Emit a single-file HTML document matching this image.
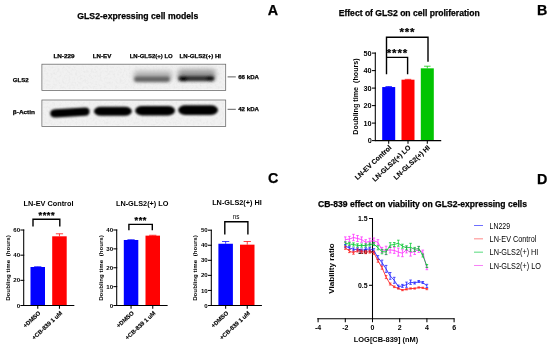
<!DOCTYPE html>
<html><head><meta charset="utf-8"><title>GLS2 figure</title>
<style>
html,body{margin:0;padding:0;background:#fff;}
svg{display:block}
text{font-family:"Liberation Sans",Arial,sans-serif;fill:#000}
.b{font-weight:bold}
.h{stroke:#000;stroke-width:0.25}
.h2{stroke:#000;stroke-width:0.15}
.ax{stroke:#000;stroke-width:1.05;fill:none;stroke-linecap:square}
.br{stroke:#000;stroke-width:1.4;fill:none}
</style></head><body>
<svg width="550" height="349" viewBox="0 0 550 349">
<defs>
<filter id="bl1" x="-20%" y="-100%" width="140%" height="300%"><feGaussianBlur stdDeviation="1.5"/></filter>
<filter id="bl2" x="-20%" y="-100%" width="140%" height="300%"><feGaussianBlur stdDeviation="2.4"/></filter>
<filter id="bl3" x="-20%" y="-100%" width="140%" height="300%"><feGaussianBlur stdDeviation="0.8"/></filter>
<filter id="noise" x="0" y="0" width="100%" height="100%"><feTurbulence type="fractalNoise" baseFrequency="0.45" numOctaves="2" seed="3" result="n"/><feColorMatrix in="n" type="matrix" values="0 0 0 0 0.55  0 0 0 0 0.55  0 0 0 0 0.55  0.9 0 0 0 -0.38"/></filter>
<clipPath id="c1"><rect x="41.9" y="64.2" width="183.8" height="26.2"/></clipPath>
</defs>
<rect width="550" height="349" fill="#fff"/>

<text x="267.8" y="15" class="b h" font-size="14.3">A</text>
<text x="537.1" y="14.9" class="b h" font-size="14.3">B</text>
<text x="268.1" y="183.3" class="b h" font-size="14.3">C</text>
<text x="537.1" y="183.5" class="b h" font-size="14.3">D</text>
<text x="137.8" y="18.6" class="b h" font-size="8.7" text-anchor="middle" textLength="121" lengthAdjust="spacingAndGlyphs">GLS2-expressing cell models</text>
<text x="64" y="57.6" class="b h" font-size="6.0" text-anchor="middle" textLength="21.2" lengthAdjust="spacingAndGlyphs">LN-229</text>
<text x="102" y="57.6" class="b h" font-size="6.0" text-anchor="middle" textLength="18.5" lengthAdjust="spacingAndGlyphs">LN-EV</text>
<text x="151.2" y="57.6" class="b h" font-size="6.0" text-anchor="middle" textLength="43" lengthAdjust="spacingAndGlyphs">LN-GLS2(+) LO</text>
<text x="200.3" y="57.6" class="b h" font-size="6.0" text-anchor="middle" textLength="41.5" lengthAdjust="spacingAndGlyphs">LN-GLS2(+) HI</text>
<text x="12.8" y="81.8" class="b h" font-size="6.0" textLength="15.8" lengthAdjust="spacingAndGlyphs">GLS2</text>
<text x="12.8" y="113.6" class="b h" font-size="6.0" textLength="22.2" lengthAdjust="spacingAndGlyphs">β-Actin</text>
<text x="238.2" y="79" class="b h" font-size="6.0" textLength="20.8" lengthAdjust="spacingAndGlyphs">66 kDA</text>
<text x="238.2" y="110.8" class="b h" font-size="6.0" textLength="20.8" lengthAdjust="spacingAndGlyphs">42 kDA</text>
<path d="M227.6 76.9H235.8M227.6 109.3H235.8" stroke="#2a2a2a" stroke-width="0.75" fill="none"/>
<rect x="41.9" y="64.2" width="183.8" height="26.2" fill="#f1f1f1"/>
<rect x="41.9" y="64.2" width="183.8" height="26.2" filter="url(#noise)" opacity="0.45"/>
<rect x="41.9" y="100" width="183.8" height="26.6" fill="#f1f1f1"/>
<rect x="41.9" y="100" width="183.8" height="26.6" filter="url(#noise)" opacity="0.45"/>
<g clip-path="url(#c1)">
<g filter="url(#bl2)"><rect x="134" y="71" width="38" height="9" rx="3" fill="#b4b4b4"/><rect x="178" y="69.5" width="37.5" height="10" rx="3" fill="#989898"/></g>
<g filter="url(#bl1)"><rect x="134" y="76.6" width="36" height="5.4" rx="2.7" fill="#505050" opacity="0.85"/><rect x="178.2" y="76" width="36.3" height="5" rx="2.5" fill="#2c2c2c"/><ellipse cx="183.5" cy="78.8" rx="4.5" ry="2.4" fill="#000"/><ellipse cx="210" cy="78.6" rx="3.8" ry="2.2" fill="#000"/></g>
</g>
<g filter="url(#bl3)" fill="#050505">
<path d="M50.2 113.5 Q50.2 109.6 55 109.2 L85 107.5 Q89.6 107.5 89.6 111.4 Q89.6 115.4 85 115.8 L56 117.6 Q50.2 117.8 50.2 113.5Z"/>
<rect x="94" y="106.8" width="37.8" height="9" rx="7" ry="4.5"/>
<rect x="135.2" y="105.9" width="39.8" height="9.6" rx="7" ry="4.8"/>
<rect x="178.2" y="105.3" width="39.8" height="9.6" rx="7" ry="4.8"/>
</g>
<rect x="42.7" y="65" width="182.2" height="24.6" fill="none" stroke="#fbfbfb" stroke-width="0.6"/>
<rect x="41.9" y="64.2" width="183.8" height="26.2" fill="none" stroke="#666" stroke-width="0.75"/>
<rect x="42.7" y="100.8" width="182.2" height="25" fill="none" stroke="#fbfbfb" stroke-width="0.6"/>
<rect x="41.9" y="100" width="183.8" height="26.6" fill="none" stroke="#666" stroke-width="0.75"/>
<text x="409.2" y="16.3" class="b h" font-size="8.6" text-anchor="middle" textLength="141" lengthAdjust="spacingAndGlyphs">Effect of GLS2 on cell proliferation</text>
<rect x="382.2" y="87.05" width="13" height="53.55" fill="#0202ff"/>
<path d="M388.7 87.05V86.52M385.45 86.52H391.95" stroke="#0202ff" stroke-width="0.75" fill="none"/>
<path class="ax" stroke-width="1.05" d="M388.7 140.6V143.2"/>
<rect x="401.5" y="79.7" width="13" height="60.9" fill="#ff0202"/>
<path d="M408 79.7V79.35M404.75 79.35H411.25" stroke="#ff0202" stroke-width="0.75" fill="none"/>
<path class="ax" stroke-width="1.05" d="M408 140.6V143.2"/>
<rect x="420.8" y="68.33" width="13" height="72.27" fill="#02c402"/>
<path d="M427.3 68.33V66.22M424.05 66.22H430.55" stroke="#02c402" stroke-width="0.75" fill="none"/>
<path class="ax" stroke-width="1.05" d="M427.3 140.6V143.2"/>
<path class="ax" stroke-width="1.05" d="M375.3 53.1V140.6H440.7"/>
<path class="ax" stroke-width="1.05" d="M372.5 140.6H375.3"/>
<text x="371.7" y="143.2" class="b" font-size="7.3" text-anchor="end">0</text>
<path class="ax" stroke-width="1.05" d="M372.5 123.1H375.3"/>
<text x="371.7" y="125.7" class="b" font-size="7.3" text-anchor="end">10</text>
<path class="ax" stroke-width="1.05" d="M372.5 105.6H375.3"/>
<text x="371.7" y="108.2" class="b" font-size="7.3" text-anchor="end">20</text>
<path class="ax" stroke-width="1.05" d="M372.5 88.1H375.3"/>
<text x="371.7" y="90.7" class="b" font-size="7.3" text-anchor="end">30</text>
<path class="ax" stroke-width="1.05" d="M372.5 70.6H375.3"/>
<text x="371.7" y="73.2" class="b" font-size="7.3" text-anchor="end">40</text>
<path class="ax" stroke-width="1.05" d="M372.5 53.1H375.3"/>
<text x="371.7" y="55.7" class="b" font-size="7.3" text-anchor="end">50</text>
<text transform="translate(358.4 96.5) rotate(-90)" class="b" font-size="7.0" text-anchor="middle" textLength="76.3" lengthAdjust="spacingAndGlyphs">Doubling time&#160; (hours)</text>
<path class="br" d="M386.5 74.2V37.2H428V61.8"/>
<path class="br" d="M386.5 57.4H407.6V74.2"/>
<text x="407.4" y="36.2" class="b h" font-size="11.5" text-anchor="middle" letter-spacing="0.8">***</text>
<text x="397.4" y="56.9" class="b h" font-size="11.5" text-anchor="middle" letter-spacing="0.8">****</text>
<text transform="translate(391.9 148.2) rotate(-43)" class="b h2" font-size="6.9" text-anchor="end">LN-EV Control</text>
<text transform="translate(411.2 148.2) rotate(-43)" class="b h2" font-size="6.9" text-anchor="end">LN-GLS2(+) LO</text>
<text transform="translate(430.5 148.2) rotate(-43)" class="b h2" font-size="6.9" text-anchor="end">LN-GLS2(+) HI</text>
<rect x="30.5" y="267.01" width="14.5" height="38.49" fill="#0202ff"/>
<path d="M37.75 267.01V266.69M34.12 266.69H41.38" stroke="#0202ff" stroke-width="0.75" fill="none"/>
<path class="ax" stroke-width="0.95" d="M37.75 305.5V308.1"/>
<rect x="52.2" y="236.31" width="14.5" height="69.19" fill="#ff0202"/>
<path d="M59.45 236.31V233.79M55.83 233.79H63.08" stroke="#ff0202" stroke-width="0.75" fill="none"/>
<path class="ax" stroke-width="0.95" d="M59.45 305.5V308.1"/>
<path class="ax" stroke-width="0.95" d="M23.7 230.02V305.5H73.8"/>
<path class="ax" stroke-width="0.95" d="M20.9 305.5H23.7"/>
<text x="20.1" y="307.6" class="b" font-size="6.1" text-anchor="end">0</text>
<path class="ax" stroke-width="0.95" d="M20.9 280.34H23.7"/>
<text x="20.1" y="282.44" class="b" font-size="6.1" text-anchor="end">20</text>
<path class="ax" stroke-width="0.95" d="M20.9 255.18H23.7"/>
<text x="20.1" y="257.28" class="b" font-size="6.1" text-anchor="end">40</text>
<path class="ax" stroke-width="0.95" d="M20.9 230.02H23.7"/>
<text x="20.1" y="232.12" class="b" font-size="6.1" text-anchor="end">60</text>
<text transform="translate(10.2 268) rotate(-90)" class="b" font-size="6.2" text-anchor="middle" textLength="65.7" lengthAdjust="spacingAndGlyphs">Doubling time&#160; (hours)</text>
<text x="48.5" y="205.6" class="b" font-size="7.3" text-anchor="middle">LN-EV Control</text>
<path class="br" stroke-width="1.15" d="M33 226.4V219.3H59.8V226.4"/>
<text x="46.8" y="217.8" class="b h" font-size="9.2" text-anchor="middle" letter-spacing="0.55">****</text>
<text transform="translate(40.95 313.6) rotate(-43)" class="b h2" font-size="5.9" text-anchor="end">+DMSO</text>
<text transform="translate(62.65 313.6) rotate(-43)" class="b h2" font-size="5.9" text-anchor="end">+CB-839 1 uM</text>
<rect x="123.8" y="239.99" width="14.5" height="65.51" fill="#0202ff"/>
<path d="M131.05 239.99V239.7M127.43 239.7H134.68" stroke="#0202ff" stroke-width="0.75" fill="none"/>
<path class="ax" stroke-width="0.95" d="M131.05 305.5V308.1"/>
<rect x="145.5" y="235.64" width="14.5" height="69.86" fill="#ff0202"/>
<path d="M152.75 235.64V235.27M149.12 235.27H156.38" stroke="#ff0202" stroke-width="0.75" fill="none"/>
<path class="ax" stroke-width="0.95" d="M152.75 305.5V308.1"/>
<path class="ax" stroke-width="0.95" d="M116.7 229.98V305.5H167.1"/>
<path class="ax" stroke-width="0.95" d="M113.9 305.5H116.7"/>
<text x="113.1" y="307.6" class="b" font-size="6.1" text-anchor="end">0</text>
<path class="ax" stroke-width="0.95" d="M113.9 286.62H116.7"/>
<text x="113.1" y="288.72" class="b" font-size="6.1" text-anchor="end">10</text>
<path class="ax" stroke-width="0.95" d="M113.9 267.74H116.7"/>
<text x="113.1" y="269.84" class="b" font-size="6.1" text-anchor="end">20</text>
<path class="ax" stroke-width="0.95" d="M113.9 248.86H116.7"/>
<text x="113.1" y="250.96" class="b" font-size="6.1" text-anchor="end">30</text>
<path class="ax" stroke-width="0.95" d="M113.9 229.98H116.7"/>
<text x="113.1" y="232.08" class="b" font-size="6.1" text-anchor="end">40</text>
<text transform="translate(102.5 268) rotate(-90)" class="b" font-size="6.2" text-anchor="middle" textLength="65.7" lengthAdjust="spacingAndGlyphs">Doubling time&#160; (hours)</text>
<text x="142.2" y="205.6" class="b" font-size="7.3" text-anchor="middle">LN-GLS2(+) LO</text>
<path class="br" stroke-width="1.15" d="M128.9 230.2V224.4H152.3V230.2"/>
<text x="140.7" y="223.1" class="b h" font-size="9.2" text-anchor="middle" letter-spacing="0.55">***</text>
<text transform="translate(134.25 313.6) rotate(-43)" class="b h2" font-size="5.9" text-anchor="end">+DMSO</text>
<text transform="translate(155.95 313.6) rotate(-43)" class="b h2" font-size="5.9" text-anchor="end">+CB-839 1 uM</text>
<rect x="218.4" y="243.75" width="14.5" height="61.75" fill="#0202ff"/>
<path d="M225.65 243.75V241.5M222.03 241.5H229.28" stroke="#0202ff" stroke-width="0.75" fill="none"/>
<path class="ax" stroke-width="0.95" d="M225.65 305.5V308.1"/>
<rect x="240" y="244.66" width="14.5" height="60.84" fill="#ff0202"/>
<path d="M247.25 244.66V241.5M243.62 241.5H250.88" stroke="#ff0202" stroke-width="0.75" fill="none"/>
<path class="ax" stroke-width="0.95" d="M247.25 305.5V308.1"/>
<path class="ax" stroke-width="0.95" d="M211.3 230.2V305.5H261.4"/>
<path class="ax" stroke-width="0.95" d="M208.5 305.5H211.3"/>
<text x="207.7" y="307.6" class="b" font-size="6.1" text-anchor="end">0</text>
<path class="ax" stroke-width="0.95" d="M208.5 290.44H211.3"/>
<text x="207.7" y="292.54" class="b" font-size="6.1" text-anchor="end">10</text>
<path class="ax" stroke-width="0.95" d="M208.5 275.38H211.3"/>
<text x="207.7" y="277.48" class="b" font-size="6.1" text-anchor="end">20</text>
<path class="ax" stroke-width="0.95" d="M208.5 260.32H211.3"/>
<text x="207.7" y="262.42" class="b" font-size="6.1" text-anchor="end">30</text>
<path class="ax" stroke-width="0.95" d="M208.5 245.26H211.3"/>
<text x="207.7" y="247.36" class="b" font-size="6.1" text-anchor="end">40</text>
<path class="ax" stroke-width="0.95" d="M208.5 230.2H211.3"/>
<text x="207.7" y="232.3" class="b" font-size="6.1" text-anchor="end">50</text>
<text transform="translate(197.3 268) rotate(-90)" class="b" font-size="6.2" text-anchor="middle" textLength="65.7" lengthAdjust="spacingAndGlyphs">Doubling time&#160; (hours)</text>
<text x="237" y="204.8" class="b" font-size="7.3" text-anchor="middle">LN-GLS2(+) HI</text>
<path class="br" stroke-width="1.15" d="M224.8 234.5V221.8H247.9V234.5"/>
<text x="236" y="219.1" font-size="6.4" text-anchor="middle">ns</text>
<text transform="translate(228.85 313.6) rotate(-43)" class="b h2" font-size="5.9" text-anchor="end">+DMSO</text>
<text transform="translate(250.45 313.6) rotate(-43)" class="b h2" font-size="5.9" text-anchor="end">+CB-839 1 uM</text>
<text x="422.5" y="206.8" class="b h" font-size="8.4" text-anchor="middle" textLength="209" lengthAdjust="spacingAndGlyphs">CB-839 effect on viability on GLS2-expressing cells</text>
<path class="ax" stroke-width="0.9" d="M372.5 218.7V318.7M317.8 318.7H453.9"/>
<path class="ax" stroke-width="0.9" d="M369.5 285.3H372.5"/>
<text x="367.6" y="287.7" class="b" font-size="6.9" text-anchor="end">0.5</text>
<path class="ax" stroke-width="0.9" d="M369.5 251.9H372.5"/>
<text x="367.6" y="254.3" class="b" font-size="6.9" text-anchor="end">1.0</text>
<path class="ax" stroke-width="0.9" d="M369.5 218.5H372.5"/>
<text x="367.6" y="220.9" class="b" font-size="6.9" text-anchor="end">1.5</text>
<path class="ax" stroke-width="0.9" d="M318.1 318.7V321.7"/>
<text x="318.1" y="330.3" class="b" font-size="7.0" text-anchor="middle">-4</text>
<path class="ax" stroke-width="0.9" d="M345.3 318.7V321.7"/>
<text x="345.3" y="330.3" class="b" font-size="7.0" text-anchor="middle">-2</text>
<path class="ax" stroke-width="0.9" d="M372.5 318.7V321.7"/>
<text x="372.5" y="330.3" class="b" font-size="7.0" text-anchor="middle">0</text>
<path class="ax" stroke-width="0.9" d="M399.7 318.7V321.7"/>
<text x="399.7" y="330.3" class="b" font-size="7.0" text-anchor="middle">2</text>
<path class="ax" stroke-width="0.9" d="M426.9 318.7V321.7"/>
<text x="426.9" y="330.3" class="b" font-size="7.0" text-anchor="middle">4</text>
<path class="ax" stroke-width="0.9" d="M454.1 318.7V321.7"/>
<text x="454.1" y="330.3" class="b" font-size="7.0" text-anchor="middle">6</text>
<text x="386" y="342.3" class="b" font-size="7.4" text-anchor="middle" textLength="64.4" lengthAdjust="spacingAndGlyphs">LOG[CB-839] (nM)</text>
<text transform="translate(334.4 268.5) rotate(-90)" class="b" font-size="7.8" text-anchor="middle" textLength="50.5" lengthAdjust="spacingAndGlyphs">Viability ratio</text>
<g stroke="#ff2cff" stroke-width="0.85" fill="none">
<polyline points="345.3,239.6 349.38,239.1 353.46,237.5 357.54,238.5 361.62,239.6 365.7,242.4 369.78,241.3 373.86,240.7 377.94,242.4 382.02,249.9 386.1,250.4 390.18,249.9 394.26,250.4 398.34,252.1 402.42,253.2 406.5,249.9 410.58,252.6 414.66,251.5 418.74,249.4 422.82,252.6 426.9,268.5"/>
<path d="M345.3 236.9V242.3M344 236.9H346.6M344 242.3H346.6M349.38 236.4V241.8M348.08 236.4H350.68M348.08 241.8H350.68M353.46 234.3V240.7M352.16 234.3H354.76M352.16 240.7H354.76M357.54 235.5V241.5M356.24 235.5H358.84M356.24 241.5H358.84M361.62 236.9V242.3M360.32 236.9H362.92M360.32 242.3H362.92M365.7 239.7V245.1M364.4 239.7H367M364.4 245.1H367M369.78 238.3V244.3M368.48 238.3H371.08M368.48 244.3H371.08M373.86 238V243.4M372.56 238H375.16M372.56 243.4H375.16M377.94 239.7V245.1M376.64 239.7H379.24M376.64 245.1H379.24M382.02 247.4V252.4M380.72 247.4H383.32M380.72 252.4H383.32M386.1 246.2V254.6M384.8 246.2H387.4M384.8 254.6H387.4M390.18 246.9V252.9M388.88 246.9H391.48M388.88 252.9H391.48M394.26 247.4V253.4M392.96 247.4H395.56M392.96 253.4H395.56M398.34 248.1V256.1M397.04 248.1H399.64M397.04 256.1H399.64M402.42 249.7V256.7M401.12 249.7H403.72M401.12 256.7H403.72M406.5 246.9V252.9M405.2 246.9H407.8M405.2 252.9H407.8M410.58 249.1V256.1M409.28 249.1H411.88M409.28 256.1H411.88M414.66 248.5V254.5M413.36 248.5H415.96M413.36 254.5H415.96M418.74 246.4V252.4M417.44 246.4H420.04M417.44 252.4H420.04M422.82 250.1V255.1M421.52 250.1H424.12M421.52 255.1H424.12M426.9 267.3V269.7M425.6 267.3H428.2M425.6 269.7H428.2" stroke-width="0.75"/>
</g>
<g stroke="#00c82c" stroke-width="0.85" fill="none">
<polyline points="345.3,243.4 349.38,244 353.46,244.5 357.54,245.4 361.62,245.6 365.7,245.4 369.78,244.5 373.86,244 377.94,247.8 382.02,251.6 386.1,252 390.18,245.1 394.26,244.5 398.34,243.2 402.42,246.2 406.5,247.8 410.58,247.3 414.66,249.4 418.74,248.4 422.82,255.5 426.9,266"/>
<path d="M345.3 241.8V245M344 241.8H346.6M344 245H346.6M349.38 242.4V245.6M348.08 242.4H350.68M348.08 245.6H350.68M353.46 242.9V246.1M352.16 242.9H354.76M352.16 246.1H354.76M357.54 243.8V247M356.24 243.8H358.84M356.24 247H358.84M361.62 244V247.2M360.32 244H362.92M360.32 247.2H362.92M365.7 243.8V247M364.4 243.8H367M364.4 247H367M369.78 242.9V246.1M368.48 242.9H371.08M368.48 246.1H371.08M373.86 242.4V245.6M372.56 242.4H375.16M372.56 245.6H375.16M377.94 245.8V249.8M376.64 245.8H379.24M376.64 249.8H379.24M382.02 249.4V253.8M380.72 249.4H383.32M380.72 253.8H383.32M386.1 249.4V254.6M384.8 249.4H387.4M384.8 254.6H387.4M390.18 242.7V247.5M388.88 242.7H391.48M388.88 247.5H391.48M394.26 242.5V246.5M392.96 242.5H395.56M392.96 246.5H395.56M398.34 240.2V246.2M397.04 240.2H399.64M397.04 246.2H399.64M402.42 244.2V248.2M401.12 244.2H403.72M401.12 248.2H403.72M406.5 245.8V249.8M405.2 245.8H407.8M405.2 249.8H407.8M410.58 243.3V251.3M409.28 243.3H411.88M409.28 251.3H411.88M414.66 247.4V251.4M413.36 247.4H415.96M413.36 251.4H415.96M418.74 246.4V250.4M417.44 246.4H420.04M417.44 250.4H420.04M422.82 254V257M421.52 254H424.12M421.52 257H424.12M426.9 264.5V267.5M425.6 264.5H428.2M425.6 267.5H428.2" stroke-width="0.75"/>
</g>
<g stroke="#1c1cff" stroke-width="0.85" fill="none">
<polyline points="345.3,246.2 349.38,247.8 353.46,249.4 357.54,249.4 361.62,250.5 365.7,249.4 369.78,248.9 373.86,250.5 377.94,257.6 382.02,262.6 386.1,268.9 390.18,275.9 394.26,280.3 398.34,286.6 402.42,285.9 406.5,284.7 410.58,282.2 414.66,283 418.74,281.5 422.82,282.5 426.9,285.9"/>
<path d="M345.3 244.7V247.7M344 244.7H346.6M344 247.7H346.6M349.38 246.3V249.3M348.08 246.3H350.68M348.08 249.3H350.68M353.46 247.9V250.9M352.16 247.9H354.76M352.16 250.9H354.76M357.54 247.9V250.9M356.24 247.9H358.84M356.24 250.9H358.84M361.62 249V252M360.32 249H362.92M360.32 252H362.92M365.7 247.9V250.9M364.4 247.9H367M364.4 250.9H367M369.78 247.4V250.4M368.48 247.4H371.08M368.48 250.4H371.08M373.86 248.7V252.3M372.56 248.7H375.16M372.56 252.3H375.16M377.94 255.6V259.6M376.64 255.6H379.24M376.64 259.6H379.24M382.02 260.1V265.1M380.72 260.1H383.32M380.72 265.1H383.32M386.1 265.4V272.4M384.8 265.4H387.4M384.8 272.4H387.4M390.18 272.5V279.3M388.88 272.5H391.48M388.88 279.3H391.48M394.26 277.3V283.3M392.96 277.3H395.56M392.96 283.3H395.56M398.34 285.1V288.1M397.04 285.1H399.64M397.04 288.1H399.64M402.42 284.4V287.4M401.12 284.4H403.72M401.12 287.4H403.72M406.5 282.1V287.3M405.2 282.1H407.8M405.2 287.3H407.8M410.58 280V284.4M409.28 280H411.88M409.28 284.4H411.88M414.66 282V284M413.36 282H415.96M413.36 284H415.96M418.74 280.5V282.5M417.44 280.5H420.04M417.44 282.5H420.04M422.82 281.5V283.5M421.52 281.5H424.12M421.52 283.5H424.12M426.9 284.3V287.5M425.6 284.3H428.2M425.6 287.5H428.2" stroke-width="0.75"/>
</g>
<g stroke="#ff1c1c" stroke-width="0.85" fill="none">
<polyline points="345.3,247.8 349.38,251.1 353.46,252.7 357.54,250.5 361.62,251.6 365.7,252.2 369.78,251.6 373.86,252.7 377.94,260.7 382.02,267.7 386.1,277.1 390.18,284 394.26,286.8 398.34,288.5 402.42,290.1 406.5,289.3 410.58,288.5 414.66,288.5 418.74,287.5 422.82,287.8 426.9,289.1"/>
<path d="M345.3 246.3V249.3M344 246.3H346.6M344 249.3H346.6M349.38 249.6V252.6M348.08 249.6H350.68M348.08 252.6H350.68M353.46 251.2V254.2M352.16 251.2H354.76M352.16 254.2H354.76M357.54 249V252M356.24 249H358.84M356.24 252H358.84M361.62 250.1V253.1M360.32 250.1H362.92M360.32 253.1H362.92M365.7 250.7V253.7M364.4 250.7H367M364.4 253.7H367M369.78 250.1V253.1M368.48 250.1H371.08M368.48 253.1H371.08M373.86 251.2V254.2M372.56 251.2H375.16M372.56 254.2H375.16M377.94 259.2V262.2M376.64 259.2H379.24M376.64 262.2H379.24M382.02 266.2V269.2M380.72 266.2H383.32M380.72 269.2H383.32M386.1 275.6V278.6M384.8 275.6H387.4M384.8 278.6H387.4M390.18 283V285M388.88 283H391.48M388.88 285H391.48M394.26 286V287.6M392.96 286H395.56M392.96 287.6H395.56M398.34 287.9V289.1M397.04 287.9H399.64M397.04 289.1H399.64M402.42 289.5V290.7M401.12 289.5H403.72M401.12 290.7H403.72M406.5 288.7V289.9M405.2 288.7H407.8M405.2 289.9H407.8M410.58 287.9V289.1M409.28 287.9H411.88M409.28 289.1H411.88M414.66 287.9V289.1M413.36 287.9H415.96M413.36 289.1H415.96M418.74 286.9V288.1M417.44 286.9H420.04M417.44 288.1H420.04M422.82 287.2V288.4M421.52 287.2H424.12M421.52 288.4H424.12M426.9 288.5V289.7M425.6 288.5H428.2M425.6 289.7H428.2" stroke-width="0.75"/>
</g>
<path d="M474 225.5H483" stroke="#4a4aff" stroke-width="0.8"/>
<text x="489.6" y="228.7" font-size="8.8" textLength="20.5" lengthAdjust="spacingAndGlyphs">LN229</text>
<path d="M474 238.83H483" stroke="#ff6a6a" stroke-width="0.8"/>
<text x="489.6" y="242.03" font-size="8.8" textLength="46.8" lengthAdjust="spacingAndGlyphs">LN-EV Control</text>
<path d="M474 252.16H483" stroke="#2ad05a" stroke-width="0.8"/>
<text x="489.6" y="255.36" font-size="8.8" textLength="48.8" lengthAdjust="spacingAndGlyphs">LN-GLS2(+) HI</text>
<path d="M474 265.49H483" stroke="#f560f5" stroke-width="0.8"/>
<text x="489.6" y="268.69" font-size="8.8" textLength="51.3" lengthAdjust="spacingAndGlyphs">LN-GLS2(+) LO</text>
</svg></body></html>
